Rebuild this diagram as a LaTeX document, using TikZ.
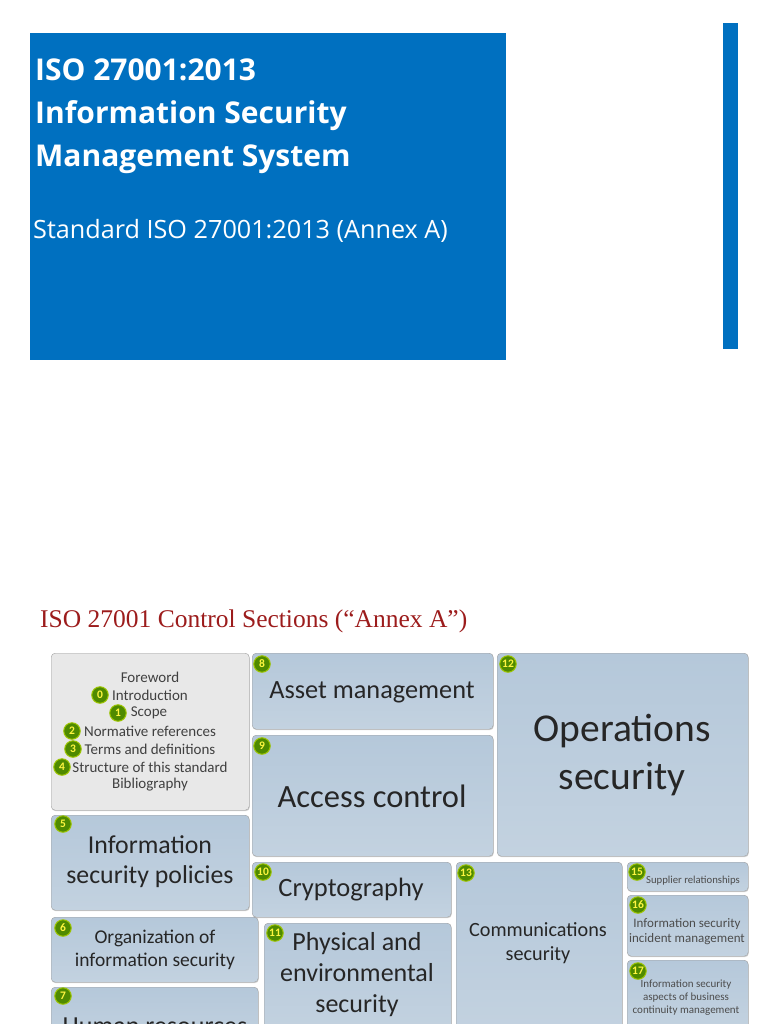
\documentclass[tikz,border=0pt]{standalone}
\usepackage{fontspec}
\setmainfont{Carlito}
\newfontfamily\headfont{Open Sans}
\newfontfamily\titlefont{Liberation Serif}
\usepackage{tikz}
\usetikzlibrary{positioning}
\usetikzlibrary{shadows}
\definecolor{isoblue}{HTML}{0070C0}
\definecolor{isored}{HTML}{9C1C1C}
\definecolor{boxtop}{HTML}{B5C8DA}
\definecolor{boxbot}{HTML}{C3D2E0}
\definecolor{badgefill}{HTML}{4F8A00}
\definecolor{badgeline}{HTML}{9CC400}
\newcommand{\fsize}[1]{\fontsize{#1}{#1}\selectfont}

\begin{document}
\begin{tikzpicture}[x=1pt,y=-1pt,
section/.style={draw=gray!75,rounded corners=4pt,anchor=north west,inner sep=0pt,
  top color=boxtop,bottom color=boxbot,text=black!85,align=center,
  drop shadow={shadow xshift=0.6pt,shadow yshift=-1pt,opacity=0.35}},
listline/.style={inner sep=0pt,text=black!75,font=\fsize{15}},
badge/.style={circle,draw=badgeline,fill=badgefill,line width=1pt,inner sep=0pt,
  minimum size=16.5pt,text=yellow!75!white,font=\fsize{11.5}\bfseries}]

\clip (0,0) rectangle (768,1024);

% kek fejlec
\node[fill=isoblue,minimum width=476pt,minimum height=327pt,anchor=north west,inner sep=0pt] (banner) at (30,33) {};
\node[fill=isoblue,minimum width=15pt,minimum height=326pt,anchor=north west,inner sep=0pt] (stripe) at (723,23) {};
\node[anchor=base west,inner sep=0pt,text=white,font=\headfont\fsize{30}\bfseries] (line1) at (35,81) {ISO 27001:2013};
\node[anchor=base west,inner sep=0pt,text=white,font=\headfont\fsize{30}\bfseries] (line2) at (35,124) {Information Security};
\node[anchor=base west,inner sep=0pt,text=white,font=\headfont\fsize{30}\bfseries] (line3) at (35,167) {Management System};
\node[anchor=base west,inner sep=0pt,text=white,font=\headfont\fsize{25.2}] (subline) at (33,238) {Standard ISO 27001:2013 (Annex A)};

% cim
\node[anchor=base west,inner sep=0pt,text=isored,font=\titlefont\fsize{25.5}] (heading) at (40,627) {ISO 27001 Control Sections (“Annex A”)};

% nagy blokkok
\node[section,minimum width=198pt,minimum height=157pt,top color=gray!18,bottom color=gray!18] (front) at (51,653) {};
\node[section,minimum width=198pt,minimum height=95pt] (policies) at (51,815) {};
\node[section,minimum width=207pt,minimum height=65pt] (organization) at (51,917) {};
\node[section,minimum width=207pt,minimum height=60pt] (human) at (51,987) {};
\node[section,minimum width=241pt,minimum height=76pt] (asset) at (252,653) {};
\node[section,minimum width=241pt,minimum height=121pt] (access) at (252,735) {};
\node[section,minimum width=199pt,minimum height=55pt] (crypto) at (252,862) {};
\node[section,minimum width=187pt,minimum height=110pt] (physical) at (264,923) {};
\node[section,minimum width=251pt,minimum height=203pt] (operations) at (497,653) {};
\node[section,minimum width=166pt,minimum height=170pt] (comms) at (456,862) {};
\node[section,minimum width=121pt,minimum height=29pt] (supplier) at (627,862) {};
\node[section,minimum width=121pt,minimum height=61pt] (incident) at (627,895) {};
\node[section,minimum width=121pt,minimum height=70pt] (continuity) at (627,960) {};

% szovegek a blokkokban
\node[font=\fsize{25.8},inner sep=0pt,text=black!85,align=center] (policiestext) at (150,862) {Information\\[4pt]security policies};
\node[font=\fsize{19.5},inner sep=0pt,text=black!85,align=center] (organizationtext) at (155,950) {Organization of\\[3.5pt]information security};
\node[font=\fsize{26},inner sep=0pt,text=black!85] (humantext) at (155,1026) {Human resources};
\node[font=\fsize{26.3},inner sep=0pt,text=black!85] (assettext) at (372,692) {Asset management};
\node[font=\fsize{32.5},inner sep=0pt,text=black!85] (accesstext) at (372,796) {Access control};
\node[font=\fsize{26.5},inner sep=0pt,text=black!85] (cryptotext) at (351,890) {Cryptography};
\node[font=\fsize{39.5},inner sep=0pt,text=black!85,align=center] (operationstext) at (622,755) {Operations\\[8pt]security};
\node[font=\fsize{26},inner sep=0pt,text=black!85,align=center] (physicaltext) at (357,975) {Physical and\\[5pt]environmental\\[5pt]security};
\node[font=\fsize{20.2},inner sep=0pt,text=black!85,align=center] (commstext) at (538,943) {Communications\\[3.5pt]security};
\node[font=\fsize{10.7},inner sep=0pt,text=black!70] (suppliertext) at (693,881) {Supplier relationships};
\node[font=\fsize{13},inner sep=0pt,text=black!70,align=center] (incidenttext) at (687,932) {Information security\\[2pt]incident management};
\node[font=\fsize{11},inner sep=0pt,text=black!70,align=center] (continuitytext) at (686,998) {Information security\\[2pt]aspects of business\\[2pt]continuity management};

% bal felso lista
\node[listline] (foreword) at (150,677) {Foreword};
\node[listline] (intro) at (150,695) {Introduction};
\node[listline] (scope) at (149,713) {Scope};
\node[listline] (normative) at (150,731) {Normative references};
\node[listline] (terms) at (150,749) {Terms and definitions};
\node[listline] (structure) at (150,767) {Structure of this standard};
\node[listline] (biblio) at (150,785) {Bibliography};

% szamok
\foreach \num/\xpos/\ypos in {0/100/695,1/118/713,2/72/731,3/73/749,4/62/767,5/63/824,
  6/63/928,7/63/996,8/262/664,9/262/746,10/263/872,11/275/933,12/508/664,13/466/873,
  15/637/872,16/638/905,17/638/971}
  \node[badge] (badge\num) at (\xpos,\ypos) {\num};

\end{tikzpicture}
\end{document}
